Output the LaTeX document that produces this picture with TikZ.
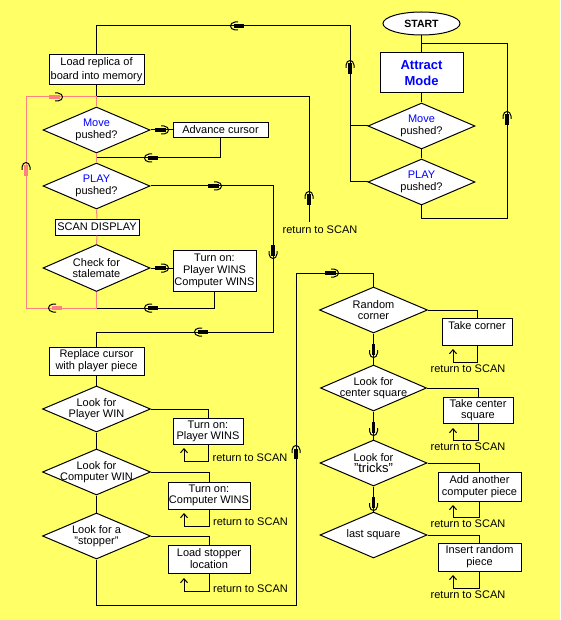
\documentclass[tikz,border=0pt]{standalone}
\usepackage{fontspec}
\setmainfont{Liberation Sans}
\usetikzlibrary{shapes.geometric,arrows.meta}
\definecolor{bg}{RGB}{255,255,102}
\definecolor{pinkl}{RGB}{255,128,128}
\definecolor{blu}{RGB}{0,0,255}
\newcommand\faCode[1]{%
  \fill[#1] (-13,-1.7) rectangle (-2.5,1.7);
  \draw[black,line width=1pt] (-7,-4) -- (-4,-4) .. controls (-1,-4) and (0.5,-1.5) .. (0.5,0) .. controls (0.5,1.5) and (-1,4) .. (-4,4) -- (-7,4);}
\tikzset{
 every node/.style={font=\fontsize{11}{12}\selectfont},
 box/.style={draw, fill=white, line width=1pt, inner sep=0pt, align=center},
 dia/.style={draw, fill=white, diamond, line width=1pt, inner sep=0pt, minimum width=107pt, minimum height=46pt},
 dtxt/.style={align=center, inner sep=0pt, font=\fontsize{11}{11.5}\selectfont},
 ln/.style={line width=1pt},
 pk/.style={line width=1pt, draw=pinkl},
 sm/.style={line width=1pt, -{Straight Barb[length=4pt,width=7pt]}},
 fa/.pic={\faCode{black}},
 fp/.pic={\faCode{pinkl}},
}
\begin{document}
\begin{tikzpicture}[x=1pt,y=-1pt]
\fill[bg] (0,0) rectangle (560,620);
\useasboundingbox (0,0) rectangle (560,620);

% ---------- right top column
\node[draw, fill=white, ellipse, line width=1pt, minimum width=77pt, minimum height=23pt, inner sep=0pt, font=\bfseries\fontsize{10.5}{12}\selectfont] (start) at (421.5,23.5) {START};
\node[box, minimum width=83pt, minimum height=40pt, text=blu, font=\bfseries\fontsize{13}{16}\selectfont] (attract) at (421.5,73) {Attract\\Mode};
\node[dia, label={[dtxt]center:{\textcolor{blu}{Move}\\pushed?}}] (rmove) at (421.5,126) {};
\node[dia, label={[dtxt]center:{\textcolor{blu}{PLAY}\\pushed?}}] (rplay) at (421.5,182) {};

% ---------- left column
\node[box, minimum width=95pt, minimum height=30pt, font=\fontsize{11}{14}\selectfont] (load) at (96.5,70) {Load replica of\\board into memory};
\node[dia, label={[dtxt]center:{\textcolor{blu}{Move}\\pushed?}}] (lmove) at (96.5,130) {};
\node[box, minimum width=95pt, minimum height=15pt] (adv) at (220.5,130) {Advance cursor};
\node[dia, label={[dtxt]center:{\textcolor{blu}{PLAY}\\pushed?}}] (lplay) at (96.5,186) {};
\node[box, minimum width=84pt, minimum height=16pt] (scan) at (97,227) {SCAN DISPLAY};
\node[dia, minimum height=47pt, label={[dtxt]center:{Check for\\stalemate}}] (stale) at (96.5,268) {};
\node[box, minimum width=83pt, minimum height=41pt] (turnon) at (214.5,270.5) {Turn on:\\Player WINS\\Computer WINS};
\node (ret0) at (320,230) {return to SCAN};
\node[box, minimum width=95pt, minimum height=28pt] (replace) at (96.5,361) {Replace cursor\\with player piece};
\node[dia, minimum width=108pt, label={[dtxt]center:{Look for\\Player WIN}}] (pwin) at (96.5,409) {};
\node[box, minimum width=70pt, minimum height=26pt, font=\fontsize{11}{11}\selectfont] (tpw) at (208,431) {Turn on:\\Player WINS};
\node (ret1) at (250,458) {return to SCAN};
\node[dia, minimum width=108pt, label={[dtxt]center:{Look for\\Computer WIN}}] (cwin) at (96.5,472) {};
\node[box, minimum width=82pt, minimum height=27pt, font=\fontsize{11}{11}\selectfont] (tcw) at (209,495.5) {Turn on:\\Computer WINS};
\node (ret2) at (250.5,522) {return to SCAN};
\node[dia, minimum width=108pt, label={[dtxt]center:{Look for a\\"stopper"}}] (stop) at (96.5,536) {};
\node[box, minimum width=82pt, minimum height=28pt] (lstop) at (209,559) {Load stopper\\location};
\node (ret3) at (250.5,589) {return to SCAN};

% ---------- right lower column
\node[dia, minimum width=108pt, label={[dtxt]center:{Random\\corner}}] (rand) at (373.5,310) {};
\node[box, minimum width=70pt, minimum height=27pt] (tcorner) at (477,331.5) {Take corner\\\mbox{}};
\node (ret4) at (468,369) {return to SCAN};
\node[dia, minimum width=106pt, label={[dtxt]center:{Look for\\center square}}] (csq) at (373.5,388) {};
\node[box, minimum width=70pt, minimum height=26pt, font=\fontsize{11}{10.5}\selectfont] (tcsq) at (478,410) {Take center\\square};
\node (ret5) at (468,447) {return to SCAN};
\node[dia, label={[dtxt]center:{Look for\\{\fontsize{13}{13}\selectfont "tricks"}}}] (tricks) at (373.5,463) {};
\node[box, minimum width=83pt, minimum height=29pt] (addp) at (479.5,486.5) {Add another\\computer piece};
\node (ret6) at (468,524) {return to SCAN};
\node[dia, label={[dtxt]center:{last square}}] (last) at (373.5,535) {};
\node[box, minimum width=83pt, minimum height=28pt] (ins) at (479.5,557) {Insert random\\piece};
\node (ret7) at (468,595) {return to SCAN};

% ---------- connectors: top right
\coordinate (j1) at (350,26);
\draw[ln] (rplay.west) -| (j1) -| (load.north);
\draw[ln] (rmove.west) -- (rmove.west -| j1);
\coordinate (r1) at (507,218);
\coordinate (r2) at (507,44);
\draw[ln] (start.south) -- (attract.north);
\draw[ln] (rplay.south) |- (r1) -- (r2) -- (r2 -| start.south);
\draw[ln] (attract.south) -- (rmove.north);
\draw[ln] (rmove.south) -- (rplay.north);

% ---------- connectors: left
\coordinate (jl) at (96.5,97);
\coordinate (rs0) at (309,222);
\coordinate (jb) at (96.5,308);
\coordinate (pl) at (26,308);
\coordinate (ja) at (96.5,158);
\coordinate (jp) at (273,332);
\draw[ln] (load.south) -- (jl);
\draw[ln] (jl) -| (rs0);
\draw[pk] (jl) -- (lmove.north);
\draw[pk] (lmove.south) -- (lplay.north);
\draw[pk] (lplay.south) -- (scan.north);
\draw[pk] (scan.south) -- (stale.north);
\draw[pk] (stale.south) -- (jb) -- (pl) |- (jl);
\draw[ln] (lmove.east) -- (adv.west);
\draw[ln] (adv.south) |- (ja);
\draw[ln] (lplay.east) -| (jp) -| (replace.north);
\draw[ln] (stale.east) -- (stale.east -| turnon.west);
\draw[ln] (turnon.south) |- (jb);

% ---------- connectors: bottom left
\draw[ln] (replace.south) -- (pwin.north);
\draw[ln] (pwin.south) -- (cwin.north);
\draw[ln] (cwin.south) -- (stop.north);
\draw[ln] (pwin.east) -| (tpw.north);
\draw[ln] (cwin.east) -| (tcw.north);
\draw[ln] (stop.east) -| (lstop.north);
\coordinate (a1) at (184,448);
\coordinate (a2) at (184,513);
\coordinate (a3) at (184,578);
\draw[sm] (tpw.south) -- ++(0,17) -| (a1);
\draw[sm] (tcw.south) -- ++(0,17) -| (a2);
\draw[sm] (lstop.south) -- ++(0,18) -| (a3);
\coordinate (b1) at (296,605);
\coordinate (b2) at (296,273);
\draw[ln] (stop.south) |- (b1) -- (b2) -| (rand.north);

% ---------- connectors: right lower
\draw[ln] (rand.south) -- (csq.north);
\draw[ln] (csq.south) -- (tricks.north);
\draw[ln] (tricks.south) -- (last.north);
\draw[ln] (rand.east) -| (tcorner.north);
\draw[ln] (csq.east) -| (tcsq.north);
\draw[ln] (tricks.east) -| (addp.north);
\draw[ln] (last.east) -| (ins.north);
\coordinate (c1) at (453,349);
\coordinate (c2) at (453,428);
\coordinate (c3) at (453,505);
\coordinate (c4) at (453,575);
\draw[sm] (tcorner.south) -- ++(0,17) -| (c1);
\draw[sm] (tcsq.south) -- ++(0,17) -| (c2);
\draw[sm] (addp.south) -- ++(0,16) -| (c3);
\draw[sm] (ins.south) -- ++(0,17) -| (c4);

% ---------- flow markers
\pic[rotate=90] at (350,61) {fa};
\pic[rotate=180] at (231,26) {fa};
\pic[rotate=90] at (507,112) {fa};
\pic[rotate=90] at (309,192) {fa};
\pic at (62,97) {fp};
\pic[rotate=90] at (26,163) {fp};
\pic[rotate=180] at (49,308) {fp};
\pic at (168,130) {fa};
\pic[rotate=180] at (145,158) {fa};
\pic at (221,186) {fa};
\pic[rotate=-90] at (273,258) {fa};
\pic[rotate=180] at (195,332) {fa};
\pic at (168,268) {fa};
\pic[rotate=180] at (145,308) {fa};
\pic[rotate=90] at (296,446) {fa};
\pic at (338,273) {fa};
\pic[rotate=-90] at (373.5,357) {fa};
\pic[rotate=-90] at (373.5,435) {fa};
\pic[rotate=-90] at (373.5,510) {fa};
\end{tikzpicture}
\end{document}
